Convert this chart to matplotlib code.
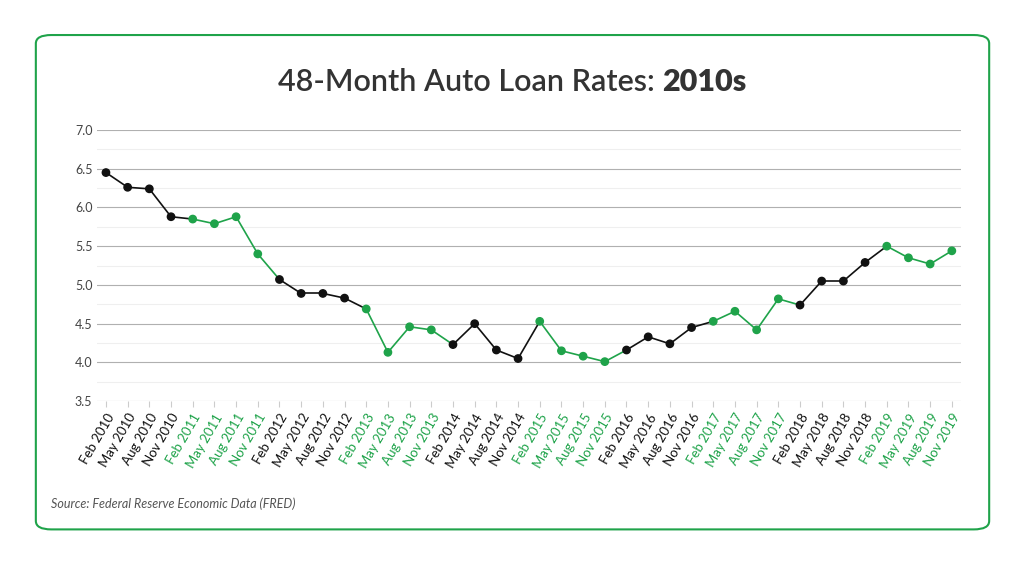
import matplotlib
matplotlib.use("Agg")
import matplotlib.pyplot as plt
from matplotlib.patches import FancyBboxPatch

months = ["Feb", "May", "Aug", "Nov"]
years = list(range(2010, 2020))
labels = [f"{m} {y}" for y in years for m in months]
rates = [6.45, 6.26, 6.24, 5.88,
         5.85, 5.79, 5.88, 5.40,
         5.07, 4.89, 4.89, 4.83,
         4.69, 4.13, 4.46, 4.42,
         4.23, 4.50, 4.16, 4.05,
         4.53, 4.15, 4.08, 4.01,
         4.16, 4.33, 4.24, 4.45,
         4.53, 4.66, 4.42, 4.82,
         4.74, 5.05, 5.05, 5.29,
         5.50, 5.35, 5.27, 5.44]

GREEN = "#1fa34a"
BLACK = "#111111"
plt.rcParams['font.family'] = ['Lato', 'DejaVu Sans']

fig = plt.figure(figsize=(10.24, 5.65), dpi=100)
fig.patches.append(FancyBboxPatch((0.035, 0.063), 0.931, 0.875, boxstyle="round,pad=0,rounding_size=0.015",
                                  transform=fig.transFigure, fill=False, ec=GREEN, lw=1.5))
ax = fig.add_axes([0.095, 0.29, 0.843, 0.48])
colors = [BLACK if (i // 4) % 2 == 0 else GREEN for i in range(len(rates))]
x = list(range(len(rates)))
for i in range(len(rates) - 1):
    ax.plot(x[i:i+2], rates[i:i+2], color=colors[i], lw=1.2, zorder=2)
ax.scatter(x, rates, c=colors, s=28, zorder=3)
ax.set_ylim(3.5, 7.0)
ax.set_xlim(-0.4, len(rates) - 0.6)
ax.set_yticks([3.5, 4.0, 4.5, 5.0, 5.5, 6.0, 6.5, 7.0])
ax.set_yticks([3.75, 4.25, 4.75, 5.25, 5.75, 6.25, 6.75], minor=True)
ax.grid(axis='y', which='major', color='#b0b0b0', lw=0.8)
ax.grid(axis='y', which='minor', color='#efefef', lw=0.8)
ax.set_xticks(x)
ax.set_xticklabels(labels, rotation=60, ha='right', rotation_mode='anchor', fontsize=9.5)
for t, c in zip(ax.get_xticklabels(), colors):
    t.set_color(c)
ax.tick_params(axis='x', length=4, color='#cccccc')
ax.tick_params(axis='y', length=0, labelsize=9, labelcolor='#444444')
ax.tick_params(axis='y', which='minor', length=0)
for s in ax.spines.values():
    s.set_visible(False)
ax.set_axisbelow(True)
t1 = fig.text(0.5, 0.855, "48-Month Auto Loan Rates: ", ha='left', va='center', fontsize=22,
              color='#333333', fontweight='semibold')
t2 = fig.text(0.5, 0.855, "2010s", ha='left', va='center', fontsize=22, color='#333333', fontweight='heavy')
fig.canvas.draw()
r = fig.canvas.get_renderer()
w1 = t1.get_window_extent(r).width
w2 = t2.get_window_extent(r).width
x0 = 0.5 - (w1 + w2) / 2 / fig.bbox.width
t1.set_x(x0)
t2.set_x(x0 + w1 / fig.bbox.width)
fig.text(0.05, 0.10, "Source: Federal Reserve Economic Data (FRED)", fontsize=9, style='italic', color='#555555')
fig.savefig("out.png", dpi=100)
